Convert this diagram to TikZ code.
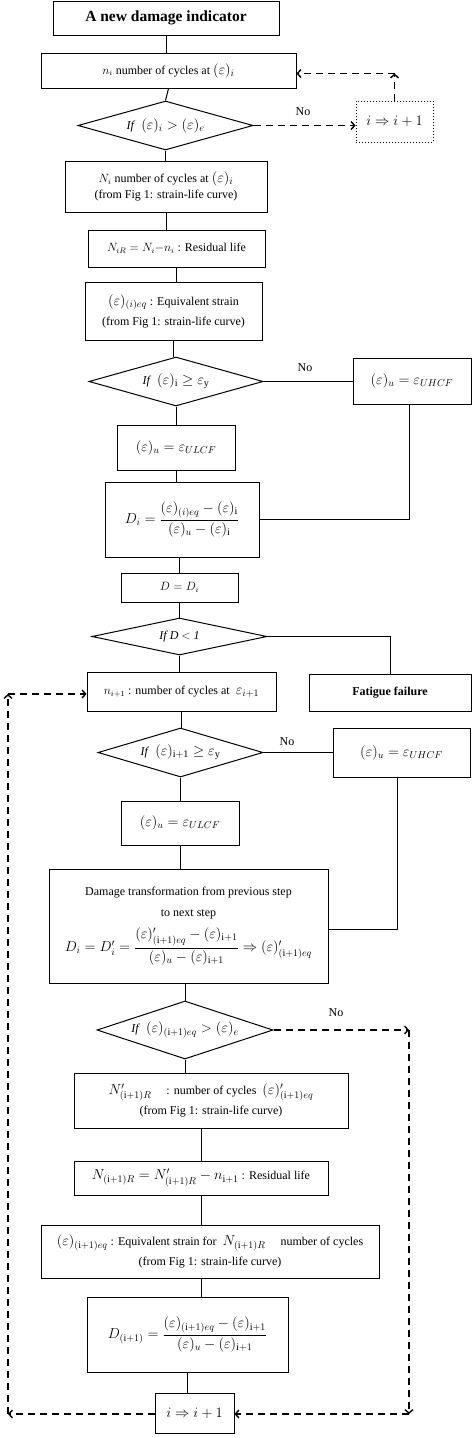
\documentclass[tikz,border=0pt]{standalone}
\usepackage{amsmath,amssymb}
\usepackage{fontspec}
\setmainfont{Liberation Serif}
\usepackage{tikz}
\usetikzlibrary{shapes.geometric, arrows.meta, positioning, calc}
\newcommand{\eqsz}{\fontsize{14.5}{17}\selectfont}

\begin{document}
\begin{tikzpicture}[x=1pt, y=-1pt, font=\fontsize{12}{14}\selectfont,
    box/.style={draw, line width=1pt, inner sep=1pt, align=center},
    dec/.style={draw, diamond, line width=1pt, inner sep=0pt, aspect=3.5},
    link/.style={draw, line width=1pt},
    dlink/.style={draw, line width=1.4pt, dash pattern=on 7pt off 5pt, -{Straight Barb[length=3.5pt,width=8pt]}}
]
    \useasboundingbox (0,0) rectangle (474,1438);
    % first cycle
    \node[box, minimum width=226pt, minimum height=34pt] (title) at (166,18) {\fontsize{15.5}{18}\selectfont\textbf{A new damage indicator}};
    \node[box, minimum width=255pt, minimum height=35pt] (n1) at (168.5,70.5) {$n_i$ number of cycles at {\eqsz$(\varepsilon)_i$}};
    \node[dec, minimum width=175pt, minimum height=49pt] (d1) at (165.5,125.5) {\textit{If} \ {\eqsz$(\varepsilon)_i > (\varepsilon)_e$}};
    \node[box, dotted, minimum width=77pt, minimum height=41pt] (inc1) at (394.5,121.5) {\eqsz$i \Rightarrow i+1$};
    \node[box, minimum width=202pt, minimum height=51pt] (n2) at (166,186.5) {$N_i$ number of cycles at {\eqsz$(\varepsilon)_i$}\\[2pt](from Fig 1: strain-life curve)};
    \node[box, minimum width=177pt, minimum height=37pt] (n3) at (176.5,248.5) {$N_{iR} = N_i{-}n_i$ : Residual life};
    \node[box, minimum width=177pt, minimum height=58pt] (n4) at (173.5,311) {{\eqsz$(\varepsilon)_{(i)eq}$} : Equivalent strain\\[6pt](from Fig 1: strain-life curve)};
    \node[dec, minimum width=174pt, minimum height=49pt] (d2) at (176,381.5) {\textit{If} \ {\eqsz$(\varepsilon)_\mathrm{i} \geq \varepsilon_\mathrm{y}$}};
    \node[box, minimum width=118pt, minimum height=46pt] (uh1) at (412,381) {\eqsz$(\varepsilon)_u = \varepsilon_{UHCF}$};
    \node[box, minimum width=118pt, minimum height=45pt] (ul1) at (176,447.5) {\eqsz$(\varepsilon)_u = \varepsilon_{ULCF}$};
    \node[box, minimum width=154pt, minimum height=75pt] (di) at (182,519.5) {\eqsz$D_i = \dfrac{(\varepsilon)_{(i)eq} - (\varepsilon)_\mathrm{i}}{(\varepsilon)_u - (\varepsilon)_\mathrm{i}}$};
    \node[box, minimum width=117pt, minimum height=29pt] (dd) at (179.5,587.5) {$D = D_i$};
    \node[dec, minimum width=175pt, minimum height=37pt] (d3) at (179.5,636.5) {\textit{If D} $<$ \textit{1}};
    \node[box, minimum width=162pt, minimum height=37pt] (ff) at (390,692.5) {\textbf{Fatigue failure}};
    % next cycles
    \node[box, minimum width=189pt, minimum height=39pt] (n5) at (181.5,691.5) {$n_{i+1}$ : number of cycles at \ {\eqsz$\varepsilon_{i+1}$}};
    \node[dec, minimum width=165pt, minimum height=49pt] (d4) at (180.5,752.5) {\textit{If} \ {\eqsz$(\varepsilon)_{\mathrm{i+1}} \geq \varepsilon_\mathrm{y}$}};
    \node[box, minimum width=137pt, minimum height=49pt] (uh2) at (401.5,752.5) {\eqsz$(\varepsilon)_u = \varepsilon_{UHCF}$};
    \node[box, minimum width=118pt, minimum height=44pt] (ul2) at (180,823) {\eqsz$(\varepsilon)_u = \varepsilon_{ULCF}$};
    \node[box, minimum width=279pt, minimum height=114pt] (dt) at (188.5,926) {Damage transformation from previous step\\[7pt]to next step\\[8pt]
        {\eqsz$D_i = D_i' = \dfrac{(\varepsilon)'_{(\mathrm{i}+1)eq} - (\varepsilon)_{\mathrm{i}+1}}{(\varepsilon)_u - (\varepsilon)_{\mathrm{i}+1}} \Rightarrow (\varepsilon)'_{(\mathrm{i}+1)eq}$}};
    \node[dec, minimum width=176pt, minimum height=58pt] (d5) at (185,1030) {\textit{If} \ {\eqsz$(\varepsilon)_{(\mathrm{i}+1)eq} > (\varepsilon)_e$}};
    \node[box, minimum width=274pt, minimum height=55pt] (n6) at (211,1100.5) {{\eqsz$N'_{(\mathrm{i}+1)R}$} \quad : number of cycles \ {\eqsz$(\varepsilon)'_{(\mathrm{i}+1)eq}$}\\[4pt](from Fig 1: strain-life curve)};
    \node[box, minimum width=254pt, minimum height=34pt] (n7) at (201,1178) {{\eqsz$N_{(\mathrm{i}+1)R} = N'_{(\mathrm{i}+1)R} - n_{\mathrm{i}+1}$} : Residual life};
    \node[box, minimum width=338pt, minimum height=53pt] (n8) at (210,1251.5) {{\eqsz$(\varepsilon)_{(\mathrm{i}+1)eq}$} : Equivalent strain for \ {\eqsz$N_{(\mathrm{i}+1)R}$} \quad number of cycles\\[6pt](from Fig 1: strain-life curve)};
    \node[box, minimum width=201pt, minimum height=75pt] (n9) at (187.5,1334.5) {\eqsz$D_{(\mathrm{i}+1)} = \dfrac{(\varepsilon)_{(\mathrm{i}+1)eq} - (\varepsilon)_{\mathrm{i}+1}}{(\varepsilon)_u - (\varepsilon)_{\mathrm{i}+1}}$};
    \node[box, minimum width=79pt, minimum height=40pt] (inc2) at (194.5,1413) {\eqsz$i \Rightarrow i+1$};
    % labels
    \node (no1) at (303,112) {No};
    \node (no2) at (305,368) {No};
    \node (no3) at (287,742) {No};
    \node (no4) at (336,1013) {No};
    % loop corners
    \coordinate (c1) at (394.5,73.5);
    \coordinate (lt) at (8,694);
    \coordinate (lb) at (8,1414);
    \coordinate (rt) at (409,1030);
    \coordinate (rb) at (409,1414);
    % main line
    \draw[link] (title.south) -- (title.south |- n1.north);
    \draw[link] (n1.south) -- (d1.north);
    \draw[link] (d1.south) -- (d1.south |- n2.north);
    \draw[link] (n2.south) -- (n2.south |- n3.north);
    \draw[link] (n3.south) -- (n3.south |- n4.north);
    \draw[link] (n4.south) -- (n4.south |- d2.north);
    \draw[link] (d2.south) -- (d2.south |- ul1.north);
    \draw[link] (ul1.south) -- (ul1.south |- di.north);
    \draw[link] (dd.north |- di.south) -- (dd.north);
    \draw[link] (dd.south) -- (dd.south |- d3.north);
    \draw[link] (d3.south) -- (d3.south |- n5.north);
    \draw[link] (n5.south) -- (n5.south |- d4.north);
    \draw[link] (d4.south) -- (d4.south |- ul2.north);
    \draw[link] (ul2.south) -- (ul2.south |- dt.north);
    \draw[link] (d5.north |- dt.south) -- (d5.north);
    \draw[link] (d5.south) -- (d5.south |- n6.north);
    \draw[link] (n6.south -| n7.north) -- (n7.north);
    \draw[link] (n7.south) -- (n7.south |- n8.north);
    \draw[link] (n9.north -| n7.south) -- (n8.south -| n7.south);
    \draw[link] (n9.south) -- (n9.south |- inc2.north);
    % branches
    \draw[link] (d2.east) -- (d2.east -| uh1.west);
    \draw[link] ([xshift=-3pt]uh1.south) |- (di.east);
    \draw[link] (d3.east) -| (ff.north);
    \draw[link] (d4.east) -- (d4.east -| uh2.west);
    \draw[link] ([xshift=-4pt]uh2.south) |- ([yshift=-3pt]dt.east);
    % dashed loops
    \draw[dlink] (d1.east) -- (d1.east -| inc1.west);
    \draw[dlink] (inc1.north) -- (c1);
    \draw[dlink] (c1) -- (c1 -| n1.east);
    \draw[dlink] (d5.east) -- (rt);
    \draw[dlink] (rt) -- (rb);
    \draw[dlink] (rb) -- (rb -| inc2.east);
    \draw[dlink] (inc2.west |- lb) -- (lb);
    \draw[dlink] (lb) -- (lt);
    \draw[dlink] (lt) -- (lt -| n5.west);
\end{tikzpicture}
\end{document}
